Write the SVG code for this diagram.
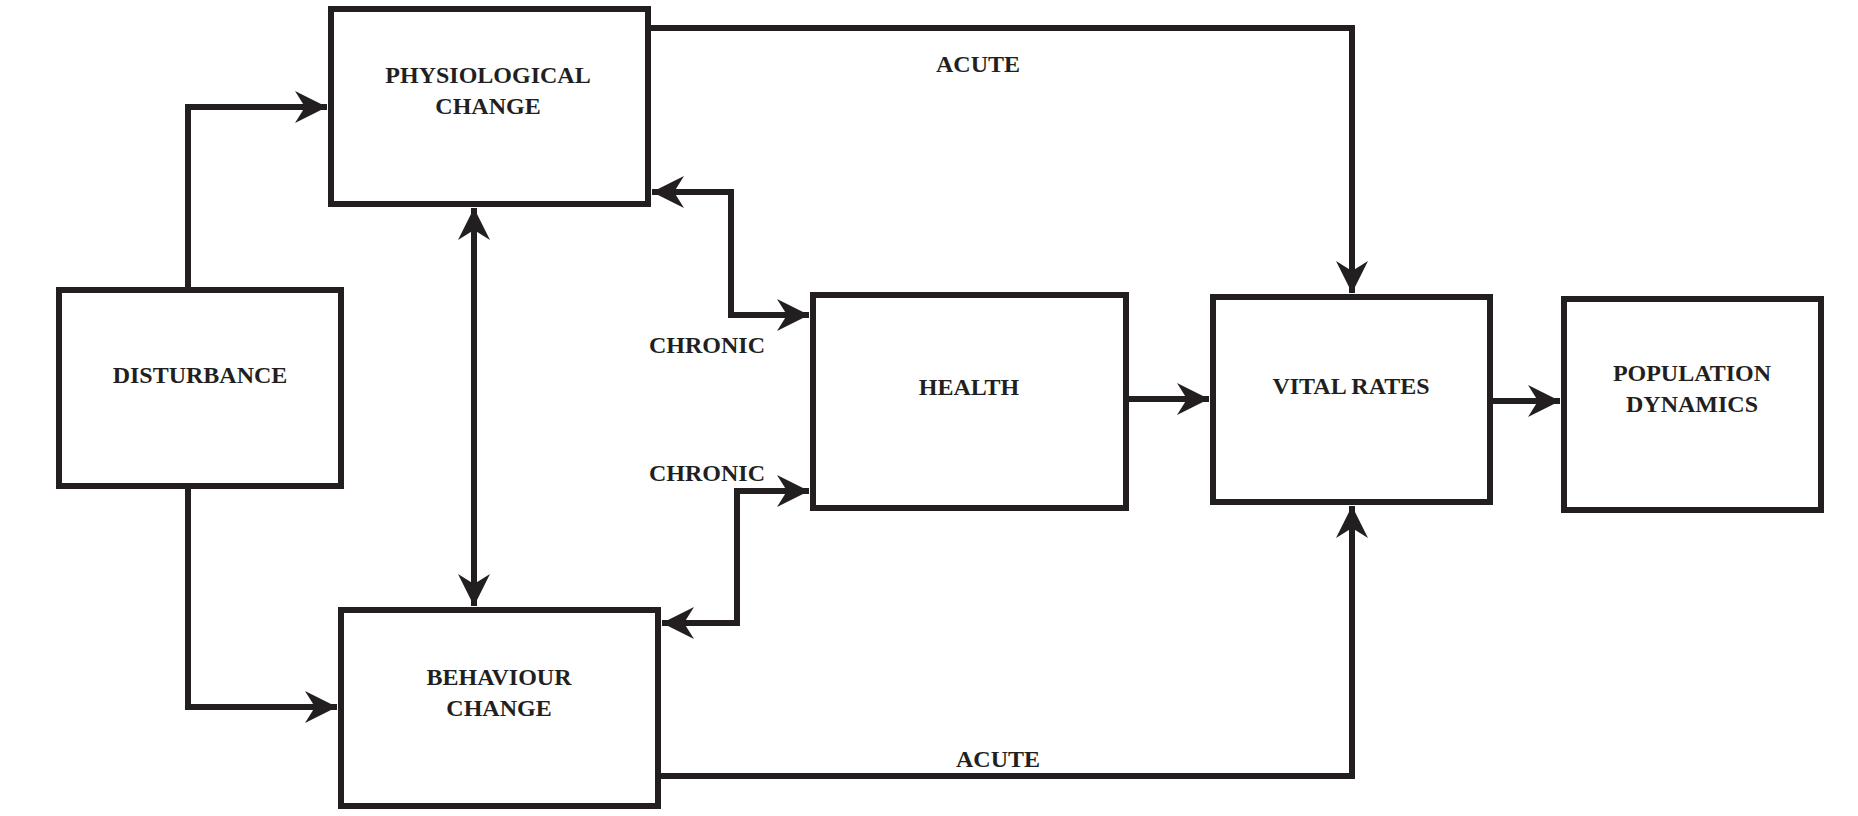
<svg xmlns="http://www.w3.org/2000/svg" width="1858" height="816" viewBox="0 0 1858 816">
<defs>
<style>
.b{fill:#fff;stroke:#231f20;stroke-width:6}
.c{fill:none;stroke:#231f20;stroke-width:6}
text{font-family:"Liberation Serif",serif;font-weight:bold;font-size:24px;fill:#231f20;text-anchor:middle}
</style>
<marker id="a" viewBox="0 0 20 20" refX="19" refY="10" markerWidth="9" markerHeight="9" markerUnits="userSpaceOnUse" orient="auto-start-reverse" style="overflow:visible">
<path d="M-12,-12 L0,0" />
</marker>
<marker id="h" viewBox="0 0 40 40" refX="38" refY="20" markerWidth="40" markerHeight="40" markerUnits="userSpaceOnUse" orient="auto-start-reverse">
<path d="M6,4 L38,20 L6,36 L16,20 Z" fill="#231f20"/>
</marker>
</defs>
<g id="connectors">
<path class="c" d="M188,290 V107 H327" marker-end="url(#h)"/>
<path class="c" d="M188,486 V707 H337" marker-end="url(#h)"/>
<path class="c" d="M474,208 V606" marker-start="url(#h)" marker-end="url(#h)"/>
<path class="c" d="M648,28 H1352 V293" marker-end="url(#h)"/>
<path class="c" d="M652,192 H731 V315 H809" marker-start="url(#h)" marker-end="url(#h)"/>
<path class="c" d="M662,623 H737 V491 H809" marker-start="url(#h)" marker-end="url(#h)"/>
<path class="c" d="M1126,399 H1209" marker-end="url(#h)"/>
<path class="c" d="M1490,401 H1560" marker-end="url(#h)"/>
<path class="c" d="M658,776 H1352 V506" marker-end="url(#h)"/>
<text x="978" y="72">ACUTE</text>
<text x="998" y="767">ACUTE</text>
<text x="707" y="353">CHRONIC</text>
<text x="707" y="481">CHRONIC</text>
</g>
<g id="physiological"><rect class="b" x="331" y="9" width="317" height="195"/><text x="488" y="83">PHYSIOLOGICAL</text><text x="488" y="114">CHANGE</text></g>
<g id="disturbance"><rect class="b" x="59" y="290" width="282" height="196"/><text x="200" y="383">DISTURBANCE</text></g>
<g id="behaviour"><rect class="b" x="341" y="610" width="317" height="196"/><text x="499" y="685">BEHAVIOUR</text><text x="499" y="716">CHANGE</text></g>
<g id="health"><rect class="b" x="813" y="295" width="313" height="213"/><text x="969" y="395">HEALTH</text></g>
<g id="vital"><rect class="b" x="1213" y="297" width="277" height="205"/><text x="1351" y="394">VITAL RATES</text></g>
<g id="population"><rect class="b" x="1564" y="299" width="257" height="211"/><text x="1692" y="381">POPULATION</text><text x="1692" y="412">DYNAMICS</text></g>
</svg>
